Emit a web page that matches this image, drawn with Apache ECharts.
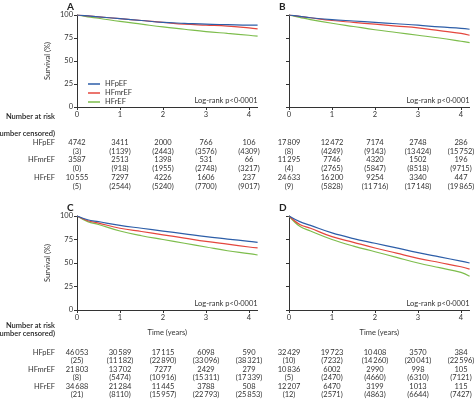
<!DOCTYPE html>
<html><head><meta charset="utf-8">
<script src="https://cdn.jsdelivr.net/npm/echarts@6/dist/echarts.min.js"></script>
<style>html,body{margin:0;padding:0;background:#fff}#c{width:474px;height:400px}</style>
</head><body><div id="c"></div>
<script>
const groups = ['HFpEF','HFmrEF','HFrEF'];
const colors = ['#2d5ea8','#e4473e','#7dbd4c'];
const times = [0,0.25,0.5,1,1.5,2,2.5,3,3.5,4,4.2];
const tickYears = [0,1,2,3,4];
// survival (%) per panel, per group
const survA_HFpEF = [100,99,98,96,94,92,91,90,89.5,89,89];
const survA_HFmrEF = [100,99,98,96,94,92,90,89,88,86,85];
const survA_HFrEF = [100,98,96.5,93,90,87,84.5,82,80,78,77];
const survB_HFpEF = [100,98.5,97,95,93.5,92,90.5,89,87,85.5,84.5];
const survB_HFmrEF = [100,98.5,97,94,92,90,88,86,83,80,78];
const survB_HFrEF = [100,97.5,95,91,87.5,84,81,78,75,71.5,70];
const survC_HFpEF = [100,96,94,90,87,84,81,78,75.5,73,72];
const survC_HFmrEF = [100,95,92.5,87,83.5,80,76.5,73,70,67,66];
const survC_HFrEF = [100,94,91,84,79,75,71,67,63,60,58.5];
const survD_HFpEF = [100,94,90,82,76,71,66,61,56.5,52,50];
const survD_HFmrEF = [100,91,87,78,72,66,60.5,55,50.5,46,43.5];
const survD_HFrEF = [100,89,84,75,68,62,56,50,45,40,36];
// number at risk / censored
const riskA_HFpEF=[4742,3411,2000,766,106], censA_HFpEF=[3,1139,2443,3576,4309];
const riskA_HFmrEF=[3587,2513,1398,531,66], censA_HFmrEF=[0,918,1955,2748,3217];
const riskA_HFrEF=[10555,7297,4226,1606,237], censA_HFrEF=[5,2544,5240,7700,9017];
const riskB_HFpEF=[17809,12472,7174,2748,286], censB_HFpEF=[8,4249,9143,13424,15752];
const riskB_HFmrEF=[11295,7746,4320,1502,196], censB_HFmrEF=[4,2765,5847,8518,9715];
const riskB_HFrEF=[24633,16200,9254,3340,447], censB_HFrEF=[9,5828,11716,17148,19865];
const riskC_HFpEF=[46053,30589,17115,6098,590], censC_HFpEF=[25,11182,22890,33096,38321];
const riskC_HFmrEF=[21803,13702,7277,2429,279], censC_HFmrEF=[8,5474,10916,15311,17339];
const riskC_HFrEF=[34688,21284,11445,3788,508], censC_HFrEF=[21,8110,15957,22793,25853];
const riskD_HFpEF=[32429,19723,10408,3570,384], censD_HFpEF=[10,7232,14260,20041,22596];
const riskD_HFmrEF=[10836,6002,2990,998,105], censD_HFmrEF=[5,2470,4660,6310,7121];
const riskD_HFrEF=[12207,6470,3199,1013,115], censD_HFrEF=[12,2571,4863,6644,7427];

const panels = [
  {letter:'A', left:77, top:15, surv:[survA_HFpEF,survA_HFmrEF,survA_HFrEF], risk:[riskA_HFpEF,riskA_HFmrEF,riskA_HFrEF], cens:[censA_HFpEF,censA_HFmrEF,censA_HFrEF], ylab:true, time:false, rows:[117,134,143,152,160,169,178,187]},
  {letter:'B', left:289, top:15, surv:[survB_HFpEF,survB_HFmrEF,survB_HFrEF], risk:[riskB_HFpEF,riskB_HFmrEF,riskB_HFrEF], cens:[censB_HFpEF,censB_HFmrEF,censB_HFrEF], ylab:false, time:false, rows:[117,134,143,152,160,169,178,187]},
  {letter:'C', left:77, top:216, surv:[survC_HFpEF,survC_HFmrEF,survC_HFrEF], risk:[riskC_HFpEF,riskC_HFmrEF,riskC_HFrEF], cens:[censC_HFpEF,censC_HFmrEF,censC_HFrEF], ylab:true, time:true, rows:[326,334,353,361,370,378,387,395]},
  {letter:'D', left:289, top:216, surv:[survD_HFpEF,survD_HFmrEF,survD_HFrEF], risk:[riskD_HFpEF,riskD_HFmrEF,riskD_HFrEF], cens:[censD_HFpEF,censD_HFmrEF,censD_HFrEF], ylab:false, time:true, rows:[326,334,353,361,370,378,387,395]}
];
const yPerYear = 43, W = 4.2*yPerYear;
const F = 'Lato, "Noto Sans", sans-serif', FS = 7.5, TC = '#333';
function fmt(n){ if(n>=10000){const s=String(n);return s.slice(0,s.length-3)+'\u2009'+s.slice(-3);} return String(n); }

const grid=[],xAxis=[],yAxis=[],series=[],graphic=[];
panels.forEach((p,i)=>{
  const H = p.letter==='A'||p.letter==='B' ? 92 : 94;
  grid.push({left:p.left, top:p.top, width:W, height:H});
  xAxis.push({gridIndex:i, type:'value', min:0, max:4.2,
    name: p.time?'Time (years)':'', nameLocation:'middle', nameGap:19,
    nameTextStyle:{fontFamily:F,fontSize:FS,color:TC},
    axisLine:{lineStyle:{color:'#333',width:1}},
    axisTick:{customValues:tickYears,length:3,lineStyle:{color:'#333'}},
    axisLabel:{customValues:tickYears,fontFamily:F,fontSize:FS,color:TC,margin:4},
    splitLine:{show:false}});
  yAxis.push({gridIndex:i, type:'value', min:0, max:100, interval:25,
    name: p.ylab?'Survival (%)':'', nameLocation:'middle', nameGap:25,
    nameTextStyle:{fontFamily:F,fontSize:FS,color:TC},
    axisLine:{show:true,lineStyle:{color:'#333',width:1}},
    axisTick:{show:true,length:3,lineStyle:{color:'#333'}},
    axisLabel:{show:p.ylab,fontFamily:F,fontSize:FS,color:TC,margin:4},
    splitLine:{show:false}});
  groups.forEach((g,k)=>{
    series.push({name:g, type:'line', xAxisIndex:i, yAxisIndex:i, smooth:0.4, showSymbol:false,
      z: 3-k, lineStyle:{color:colors[k],width:1.2}, itemStyle:{color:colors[k]},
      data: times.map((t,j)=>[t,p.surv[k][j]])});
  });
  graphic.push({type:'text', left:p.left-10, top:p.top-13, style:{text:p.letter,font:'bold 10px '+F,fill:'#222'}});
  graphic.push({type:'text', x:p.left+W, y:p.top+H-6, style:{text:'Log-rank p<0·0001',font:FS+'px '+F,fill:TC,align:'right',verticalAlign:'middle'}});
  if(p.left<100){
    graphic.push({type:'text', x:55, y:p.rows[0], style:{text:'Number at risk',font:'600 7.5px '+F,fill:'#222',align:'right',verticalAlign:'middle'}});
    graphic.push({type:'text', x:55, y:p.rows[1], style:{text:'(number censored)',font:'600 7.5px '+F,fill:'#222',align:'right',verticalAlign:'middle'}});
    groups.forEach((g,k)=>graphic.push({type:'text', x:55, y:p.rows[2+2*k], style:{text:g,font:FS+'px '+F,fill:TC,align:'right',verticalAlign:'middle'}}));
  }
  groups.forEach((g,k)=>{
    tickYears.forEach((t,j)=>{
      const x = p.left + t*yPerYear;
      graphic.push({type:'text', x:x, y:p.rows[2+2*k], style:{text:fmt(p.risk[k][j]),font:FS+'px '+F,fill:TC,align:'center',verticalAlign:'middle'}});
      graphic.push({type:'text', x:x, y:p.rows[3+2*k], style:{text:'('+fmt(p.cens[k][j])+')',font:FS+'px '+F,fill:TC,align:'center',verticalAlign:'middle'}});
    });
  });
});

const chart = echarts.init(document.getElementById('c'));
chart.setOption({
  animation:false,
  grid, xAxis, yAxis, series, graphic,
  legend:{data:groups, orient:'vertical', left:83, top:75, itemGap:1, itemWidth:12, itemHeight:1.5,
    icon:'rect', textStyle:{fontFamily:F,fontSize:FS,color:TC}}
});
</script></body></html>
